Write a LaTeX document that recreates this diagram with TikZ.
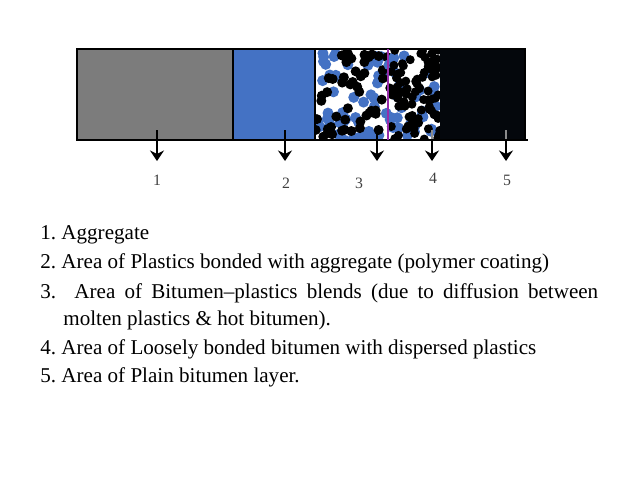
\documentclass[tikz,border=0pt]{standalone}
\usepackage{fontspec}
\setmainfont{Liberation Serif}
\usetikzlibrary{arrows.meta}
\definecolor{aggray}{RGB}{124,124,124}
\definecolor{plblue}{RGB}{68,114,196}
\definecolor{bitblack}{RGB}{4,7,12}
\definecolor{bndpurple}{RGB}{150,45,170}
\frenchspacing

\begin{document}
\begin{tikzpicture}[x=0.02cm,y=-0.02cm,>=Stealth]
  \useasboundingbox (0,0) rectangle (638,478);
  % Aggregate
  \fill[aggray] (77,49) rectangle (233,140);
  % Plastics coating
  \fill[plblue] (233,49) rectangle (315,140);
  % Blend zones (bitumen and plastics particles)
  \begin{scope}
    \clip (315,49) rectangle (440,140);
    \pgfmathsetseed{17}
    \foreach \i in {1,...,50}
      \fill[plblue] (315+73*rnd,49+91*rnd) circle (5.5);
    \foreach \i in {1,...,50}
      \fill[black] (315+73*rnd,49+91*rnd) circle (5);
    \foreach \i in {1,...,30}
      \fill[plblue] (388+52*rnd,49+91*rnd) circle (5.5);
    \foreach \i in {1,...,85}
      \fill[black] (388+52*rnd,49+91*rnd) circle (4.5);
  \end{scope}
  % Plain bitumen
  \fill[bitblack] (440,49) rectangle (525,140);
  % Outline
  \draw[line width=0.8pt] (77,49) rectangle (525,140);
  \draw[line width=0.8pt] (233,49) -- (233,140);
  \draw[line width=0.8pt] (315,49) -- (315,140);
  \draw[line width=0.8pt] (525,140) -- (528,140);
  \draw[bndpurple,line width=1.3pt] (388,49) -- (388,140);
  % Pointers and numbers
  \tikzset{pointer/.style={->,line width=1.2pt,>={Stealth[length=6pt,width=8pt]}},
           num/.style={font=\fontsize{9}{10}\selectfont,text=black!75,inner sep=0pt}}
  \foreach \n/\ax/\lx/\ly in {1/157/157/180,2/285/286/183,3/377/359/183,4/432/433/178,5/506/507/180}{
    \coordinate (s\n) at (\ax,130);
    \coordinate (t\n) at (\ax,161);
    \node[num] (n\n) at (\lx,\ly) {\n};
    \draw[pointer] (s\n) -- (t\n);
  }
  % shafts seen through the dark zones
  \draw[black!45,line width=0.8pt] (s4) -- ++(0,9);
  \draw[black!45,line width=0.8pt] (s5) -- ++(0,9);
  % Legend
  \tikzset{legend/.style={anchor=base west,inner sep=0pt,font=\fontsize{12}{14}\selectfont}}
  \node[legend] (i1) at (40,239) {1. Aggregate};
  \node[legend] (i2) at (40,268) {2. Area of Plastics bonded with aggregate (polymer coating)};
  \node[legend] (i3) at (40,298) {\makebox[11.16cm][s]{3.\ \ Area of Bitumen--plastics blends (due to diffusion between}};
  \node[legend] (i3b) at (63,325) {molten plastics \& hot bitumen).};
  \node[legend] (i4) at (40,354) {4. Area of Loosely bonded bitumen with dispersed plastics};
  \node[legend] (i5) at (40,382) {5. Area of Plain bitumen layer.};
\end{tikzpicture}
\end{document}
